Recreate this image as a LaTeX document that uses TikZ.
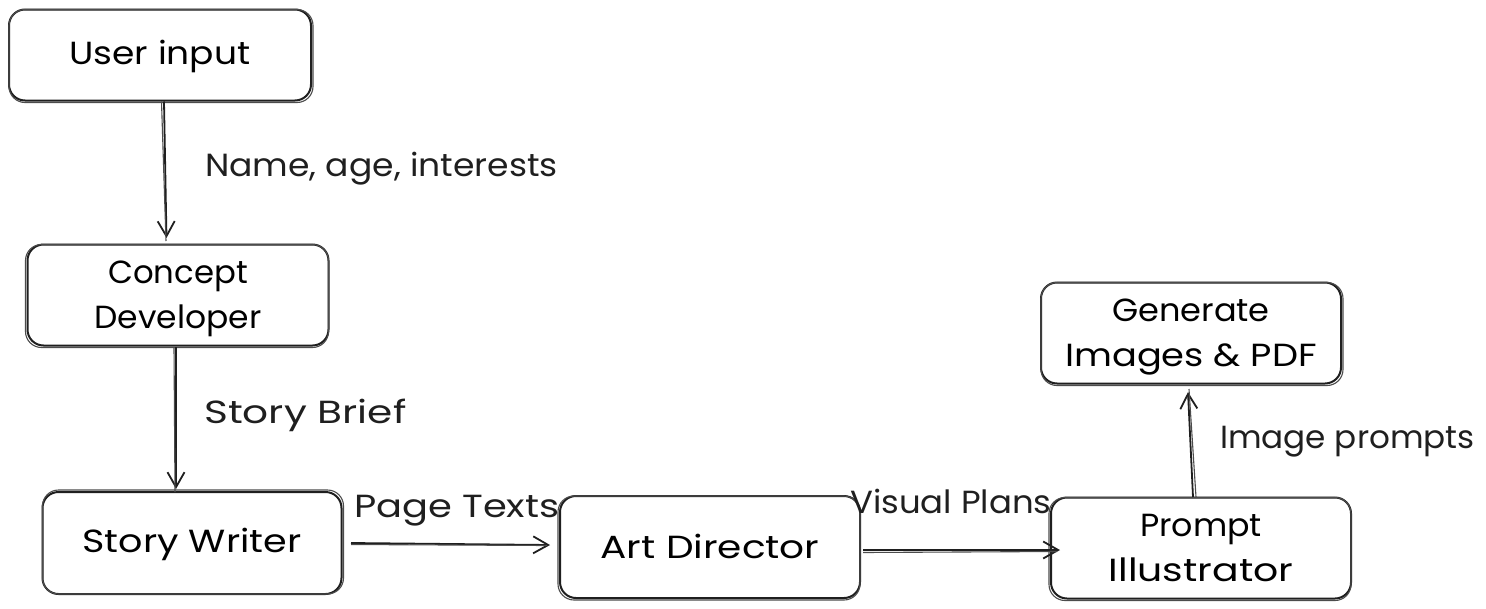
\documentclass[tikz,border=0pt]{standalone}
\usepackage{fontspec}
\usepackage{graphicx}
\setmainfont{Poppins}
\usetikzlibrary{arrows.meta}
\newcommand{\sx}[3][0pt]{\raisebox{#1}[\height][\depth]{\scalebox{#2}[1]{#3}}}
\tikzset{
 box/.style={draw=black!88,line width=2pt,rounded corners=16pt,align=center,font=\fontsize{32}{45}\selectfont,inner sep=0pt},
 lab/.style={font=\fontsize{32}{38}\selectfont,anchor=west,inner sep=0pt,text=black!88},
 conn/.style={draw=black!88,line width=1.8pt,-{Straight Barb[length=15pt,width=17pt,line width=1.8pt]}},
 ghost/.style={draw=black!70,line width=1.1pt,rounded corners=16pt},
 ghostline/.style={draw=black!70,line width=1.1pt}
}
\begin{document}
\begin{tikzpicture}[x=1pt,y=-1pt]
\useasboundingbox (0,0) rectangle (1486,608);
\node[box,minimum width=302pt,minimum height=91pt] (u) at (160,55) {\sx[-1pt]{1.125}{User input}};
\node[box,minimum width=301pt,minimum height=101pt] (c) at (178,295) {\sx[-4pt]{1.01}{Concept}\\\sx[-4pt]{1.03}{Developer}};
\node[box,minimum width=299pt,minimum height=102pt] (s) at (192,543) {\sx[-1pt]{1.19}{Story Writer}};
\node[box,minimum width=300pt,minimum height=102pt] (a) at (710,547) {\sx[1pt]{1.22}{Art Director}};
\node[box,minimum width=300pt,minimum height=101pt] (p) at (1201,548) {\sx{1.04}{Prompt}\\\sx{1.23}{Illustrator}};
\node[box,minimum width=300pt,minimum height=101pt] (g) at (1191,333) {\sx[-4pt]{1.05}{Generate}\\\sx[-4pt]{1.15}{Images \& PDF}};
% second sketch strokes
\foreach \n/\dx/\dy in {u/1/1,c/-1/1,s/1/-1,a/-1/1,p/-1/1,g/1/1}{
  \draw[ghost] ([shift={(\dx,\dy)}]\n.north west) rectangle ([shift={(\dx,\dy)}]\n.south east);
}
\coordinate (u1) at (u.south -| 164,0);
\coordinate (c1) at (166.5,238);
\coordinate (c2) at (176,347);
\coordinate (s2) at (176,489);
\coordinate (s3) at (351,543);
\coordinate (a3) at (550,545);
\coordinate (a4) at (863,550);
\coordinate (p4) at (1060,550);
\coordinate (p5) at (1193,497);
\coordinate (g5) at (1188,392);
\draw[conn] (u1) -- (c1);
\draw[conn] (c2) -- (s2);
\draw[conn] (s3) -- (a3);
\draw[conn] (a4) -- (p4);
\draw[conn] (p5) -- (g5);
\draw[ghostline] ([xshift=-2.5pt]u1) -- ([xshift=-0.5pt,yshift=-3pt]c1);
\draw[ghostline] ([xshift=-2pt]c2) -- ([xshift=-1pt,yshift=-3pt]s2);
\draw[ghostline] ([yshift=-1.5pt]s3) -- ([yshift=-0.5pt,xshift=-3pt]a3);
\draw[ghostline] ([yshift=-2.5pt]a4) -- ([yshift=-1.5pt,xshift=-3pt]p4);
\draw[ghostline] ([xshift=3pt]p5) -- ([xshift=1pt,yshift=3pt]g5);
\node[lab] (l1) at (205,169) {\sx{1.08}{Name, age, interests}};
\node[lab] (l2) at (204,415) {\sx{1.27}{Story Brief}};
\node[lab] (l3) at (354,511) {\sx{1.2}{Page Texts}};
\node[lab] (l4) at (850,501) {\sx{1.06}{Visual Plans}};
\node[lab] (l5) at (1220,442) {\sx{1.02}{Image prompts}};
\end{tikzpicture}
\end{document}
